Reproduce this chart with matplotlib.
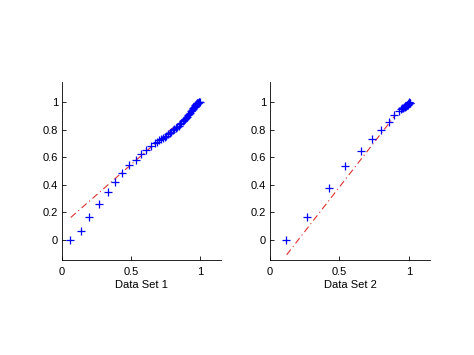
import matplotlib
matplotlib.use("Agg")
import matplotlib.pyplot as plt

plt.rcParams["font.family"] = ["Liberation Sans", "DejaVu Sans"]

# Data Set 1 (x quantiles vs y quantiles)
x1 = [0.061, 0.134, 0.197, 0.268, 0.333, 0.384, 0.438, 0.487, 0.535, 0.574,
      0.610, 0.647, 0.676, 0.692, 0.706, 0.720, 0.732, 0.745, 0.757, 0.769,
      0.781, 0.793, 0.805, 0.816, 0.827, 0.837, 0.847, 0.857, 0.866, 0.875,
      0.883, 0.892, 0.900, 0.908, 0.915, 0.922, 0.929, 0.935, 0.942, 0.948,
      0.954, 0.958, 0.963, 0.966, 0.968, 0.971, 0.973, 0.976, 0.979, 0.982,
      0.985, 0.988, 0.992, 0.996, 1.000]
y1 = [0.000, 0.061, 0.163, 0.260, 0.350, 0.420, 0.485, 0.540, 0.580, 0.620,
      0.650, 0.680, 0.700, 0.712, 0.723, 0.732, 0.740, 0.748, 0.757, 0.767,
      0.777, 0.786, 0.794, 0.802, 0.811, 0.820, 0.830, 0.840, 0.850, 0.860,
      0.869, 0.877, 0.886, 0.894, 0.903, 0.912, 0.922, 0.932, 0.942, 0.950,
      0.959, 0.963, 0.968, 0.972, 0.976, 0.980, 0.984, 0.987, 0.990, 0.993,
      0.995, 0.997, 0.998, 0.999, 1.000]
line1_x = [0.063, 0.870]
line1_y = [0.162, 0.870]

# Data Set 2
x2 = [0.116, 0.265, 0.422, 0.542, 0.653, 0.735, 0.800, 0.855, 0.896, 0.928,
      0.945, 0.952, 0.960, 0.965, 0.970, 0.975, 0.980, 0.983, 0.987, 0.990,
      0.993, 0.995, 0.998, 1.000, 1.003, 1.005, 1.008, 1.010, 1.000]
y2 = [0.000, 0.167, 0.375, 0.533, 0.644, 0.729, 0.797, 0.855, 0.906, 0.937,
      0.948, 0.954, 0.958, 0.963, 0.966, 0.970, 0.972, 0.975, 0.977, 0.980,
      0.982, 0.985, 0.987, 0.990, 0.992, 0.993, 0.995, 0.996, 1.000]
line2_x = [0.119, 0.904]
line2_y = [-0.109, 0.906]

xticks = [0, 0.5, 1]
xticklabels = ["0", "0.5", "1"]
yticks = [0, 0.2, 0.4, 0.6, 0.8, 1]
yticklabels = ["0", "0.2", "0.4", "0.6", "0.8", "1"]

fig = plt.figure(figsize=(4.74, 3.55), dpi=100)
ax1 = fig.add_axes([0.131, 0.268, 0.335, 0.501])
ax2 = fig.add_axes([0.570, 0.268, 0.337, 0.501])

panels = [(ax1, x1, y1, line1_x, line1_y, "Data Set 1"),
          (ax2, x2, y2, line2_x, line2_y, "Data Set 2")]

for ax, xs, ys, lx, ly, label in panels:
    ax.plot(lx, ly, color="#e03030", linestyle=(0, (6, 3, 1, 3)), linewidth=0.8)
    ax.plot(xs, ys, "+", color="blue", markersize=5.5, markeredgewidth=0.9)
    ax.set_xlim(0, 1.153)
    ax.set_ylim(-0.146, 1.146)
    ax.set_xticks(xticks)
    ax.set_xticklabels(xticklabels)
    ax.set_yticks(yticks)
    ax.set_yticklabels(yticklabels)
    ax.set_xlabel(label, fontsize=8, labelpad=2.5)
    ax.tick_params(direction="in", length=3, width=0.6, labelsize=8, pad=3)
    ax.tick_params(axis="x", pad=5)
    ax.spines["top"].set_visible(False)
    ax.spines["right"].set_visible(False)
    ax.spines["left"].set_linewidth(0.6)
    ax.spines["bottom"].set_linewidth(0.6)

fig.savefig("out.png", dpi=100)
